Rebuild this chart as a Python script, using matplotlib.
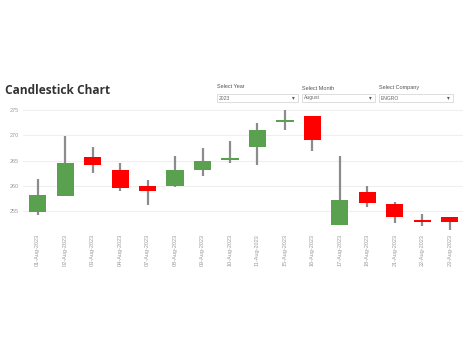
import numpy as np
import matplotlib.pyplot as plt
from matplotlib.patches import Rectangle

# trading days shown for ENGRO, August 2023
dates = ["01-Aug-2023", "02-Aug-2023", "03-Aug-2023", "04-Aug-2023",
         "07-Aug-2023", "08-Aug-2023", "09-Aug-2023", "10-Aug-2023",
         "11-Aug-2023", "15-Aug-2023", "16-Aug-2023", "17-Aug-2023",
         "18-Aug-2023", "21-Aug-2023", "22-Aug-2023", "23-Aug-2023"]
opens = [254.9, 258.0, 265.8, 263.1, 259.9, 260.0, 263.1, 265.1,
         267.6, 272.6, 273.9, 252.3, 258.9, 256.4, 253.0, 253.9]
closes = [258.3, 264.6, 264.1, 259.6, 259.0, 263.1, 264.9, 265.6,
          271.0, 272.8, 269.1, 257.3, 256.6, 253.9, 252.9, 252.9]
highs = [261.4, 269.9, 267.7, 264.5, 261.2, 266.0, 267.5, 268.9,
         272.4, 275.0, 273.9, 265.9, 259.9, 256.8, 254.4, 253.9]
lows = [254.3, 258.0, 262.6, 259.1, 256.2, 259.7, 262.0, 264.5,
        264.2, 271.0, 267.0, 252.3, 255.9, 252.7, 252.1, 251.4]
yticks = [255, 260, 265, 270, 275]

green = "#59a14f"
red = "#ff0000"
wick = "#8c8c8c"

fig = plt.figure(figsize=(4.74, 3.55), dpi=100)
ax = fig.add_axes([0.0485, 0.352, 0.928, 0.361])

x = np.arange(len(dates))
o = np.array(opens)
c = np.array(closes)
up = c >= o
colors = np.where(up, green, red)
bottoms = np.minimum(o, c)
heights = np.maximum(np.abs(c - o), 0.35)

ax.vlines(x, lows, highs, color=wick, linewidth=1.6, zorder=2)
ax.bar(x, heights, bottom=bottoms, width=0.62, color=colors, zorder=3)

ax.set_xlim(-0.53, 15.47)
ax.set_ylim(251.3, 276.6)
ax.set_yticks(yticks)
ax.yaxis.grid(True, color="#efefef", linewidth=0.8)
ax.set_axisbelow(True)
ax.set_xticks(x)
ax.set_xticklabels(dates, rotation=90, va="top", ha="center")
ax.tick_params(axis="both", length=0, labelsize=4, labelcolor="#9a9a9a")
ax.tick_params(axis="x", pad=3)
ax.tick_params(axis="y", pad=3)
for lbl in ax.get_xticklabels() + ax.get_yticklabels():
    lbl.set_family("Liberation Sans")
for s in ax.spines.values():
    s.set_visible(False)

# title
fig.text(5 / 474, 1 - 90 / 355, "Candlestick Chart", fontsize=8.6,
         fontweight="bold", color="#333333", family="Open Sans",
         va="center", ha="left")

# filter dropdowns (dashboard controls)
filters = [("Select Year", "2023", 217, 298, 87),
           ("Select Month", "August", 302, 375, 89),
           ("Select Company", "ENGRO", 379, 453, 87)]
for title, val, x0, x1, ty in filters:
    fig.text(x0 / 474, 1 - ty / 355, title, fontsize=4, color="#555555",
             family="Liberation Sans", va="center", ha="left")
    fig.patches.append(Rectangle((x0 / 474, 1 - 102 / 355), (x1 - x0) / 474,
                                 8 / 355, transform=fig.transFigure,
                                 facecolor="white", edgecolor="#d0d0d0",
                                 linewidth=0.5))
    fig.text((x0 + 2) / 474, 1 - 98 / 355, val, fontsize=3.6, color="#666666",
             family="Liberation Sans", va="center", ha="left")
    fig.text((x1 - 5) / 474, 1 - 98 / 355, "\u25be", fontsize=4,
             color="#555555", va="center", ha="center")

fig.savefig("out.png", dpi=100)
